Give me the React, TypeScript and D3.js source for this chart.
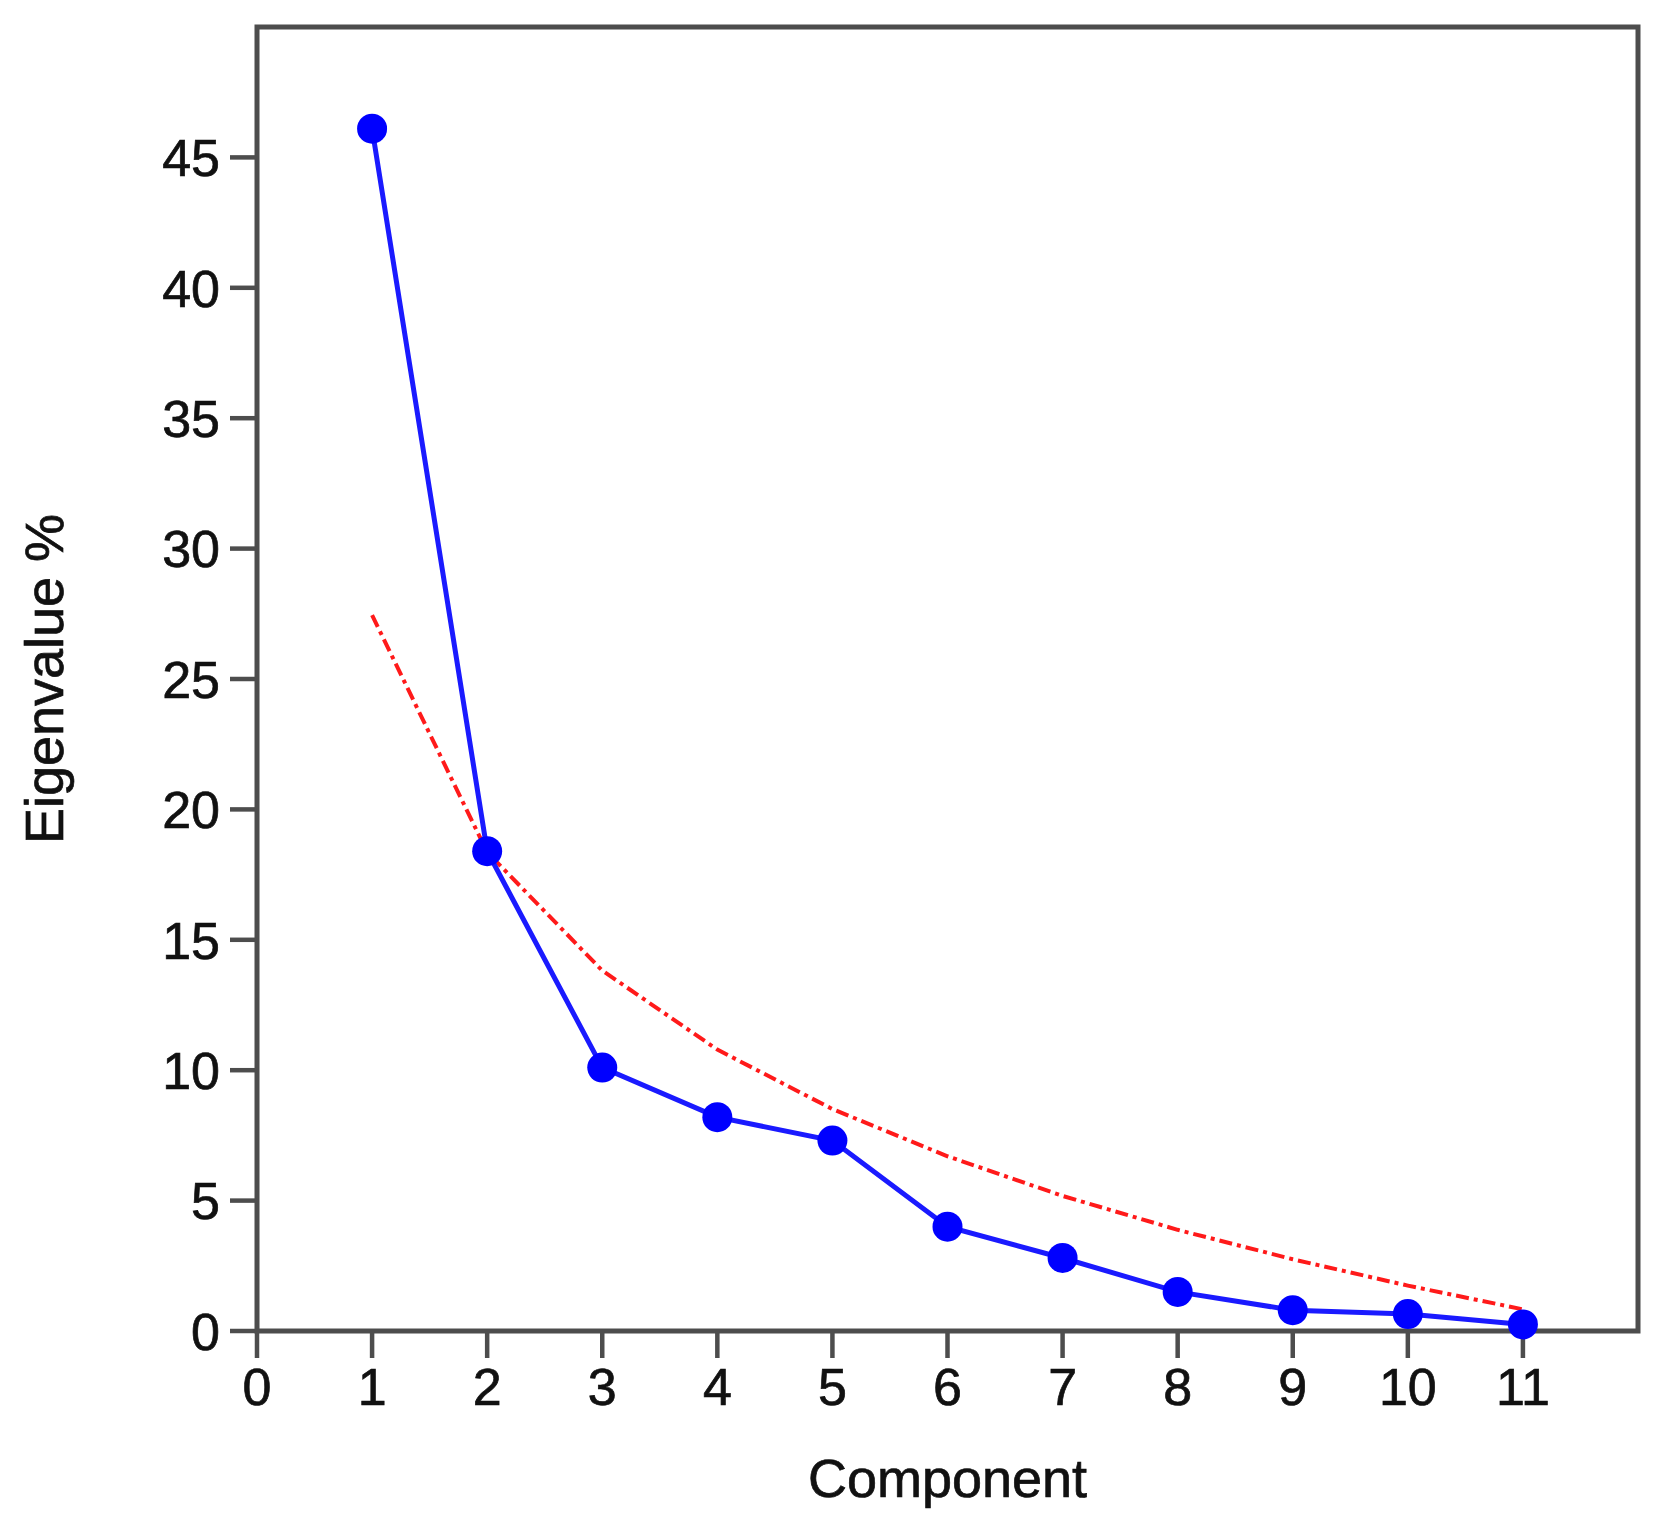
import * as d3 from 'd3';
import React from 'react';

// components on the x axis
const components = [1, 2, 3, 4, 5, 6, 7, 8, 9, 10, 11];
// observed eigenvalue % (blue)
const eigenvalues = [46.1, 18.4, 10.1, 8.2, 7.3, 4.0, 2.8, 1.5, 0.8, 0.65, 0.25];
// broken-stick reference (red dash-dot)
const brokenStick = [27.45, 18.36, 13.82, 10.79, 8.51, 6.7, 5.18, 3.88, 2.75, 1.74, 0.83];

const xTicks = [0, 1, 2, 3, 4, 5, 6, 7, 8, 9, 10, 11];
const yTicks = [0, 5, 10, 15, 20, 25, 30, 35, 40, 45];

const width = 1662;
const height = 1538;
const margin = { top: 27, right: 24, bottom: 207, left: 257 };

const App: React.FC = () => {
  const innerW = width - margin.left - margin.right;
  const innerH = height - margin.top - margin.bottom;

  const x = d3.scaleLinear().domain([0, 12]).range([0, innerW]);
  const y = d3.scaleLinear().domain([0, 50]).range([innerH, 0]);

  const line = d3
    .line<number>()
    .x((_, i) => x(components[i]))
    .y((d) => y(d));

  const axisColor = '#4d4d4d';
  const font = 'Arial, "Liberation Sans", sans-serif';
  const tickLen = 27;
  // slight weight so the text matches the heavier look of the original
  const textStyle = { stroke: '#111', strokeWidth: 0.7 };

  return (
    <div>
      <style>{`body{margin:0;}`}</style>
      <svg width={width} height={height} style={{ display: 'block', background: '#fff' }}>
        <g transform={`translate(${margin.left},${margin.top})`}>
          {/* frame */}
          <rect
            x={0}
            y={0}
            width={innerW}
            height={innerH}
            fill="none"
            stroke={axisColor}
            strokeWidth={5}
          />

          {/* y ticks */}
          {yTicks.map((t) => (
            <g key={`y${t}`} transform={`translate(0,${y(t)})`}>
              <line x1={-tickLen} x2={0} stroke={axisColor} strokeWidth={4.5} />
              <text
                x={-tickLen - 10}
                dy="0.36em"
                textAnchor="end"
                fontFamily={font}
                fontSize={52}
                fill="#111"
                style={textStyle}
              >
                {t}
              </text>
            </g>
          ))}

          {/* x ticks */}
          {xTicks.map((t) => (
            <g key={`x${t}`} transform={`translate(${x(t)},${innerH})`}>
              <line y1={0} y2={tickLen} stroke={axisColor} strokeWidth={4.5} />
              <text
                y={74}
                textAnchor="middle"
                fontFamily={font}
                fontSize={52}
                fill="#111"
                style={textStyle}
              >
                {t}
              </text>
            </g>
          ))}

          {/* broken stick */}
          <path
            d={line(brokenStick) || ''}
            fill="none"
            stroke="#ff1a1a"
            strokeWidth={4}
            strokeDasharray="13,5,4,5"
          />

          {/* eigenvalues */}
          <path
            d={line(eigenvalues) || ''}
            fill="none"
            stroke="#1a1aff"
            strokeWidth={5}
          />
          {eigenvalues.map((v, i) => (
            <circle key={i} cx={x(components[i])} cy={y(v)} r={15} fill="#0000ff" />
          ))}

          {/* axis titles */}
          <text
            x={innerW / 2}
            y={1497 - margin.top}
            textAnchor="middle"
            fontFamily={font}
            fontSize={54}
            fill="#111"
            style={textStyle}
          >
            Component
          </text>
          <text
            transform={`translate(${63 - margin.left},${innerH / 2}) rotate(-90)`}
            textAnchor="middle"
            fontFamily={font}
            fontSize={54}
            fill="#111"
            style={textStyle}
          >
            Eigenvalue %
          </text>
        </g>
      </svg>
    </div>
  );
};

export default App;
